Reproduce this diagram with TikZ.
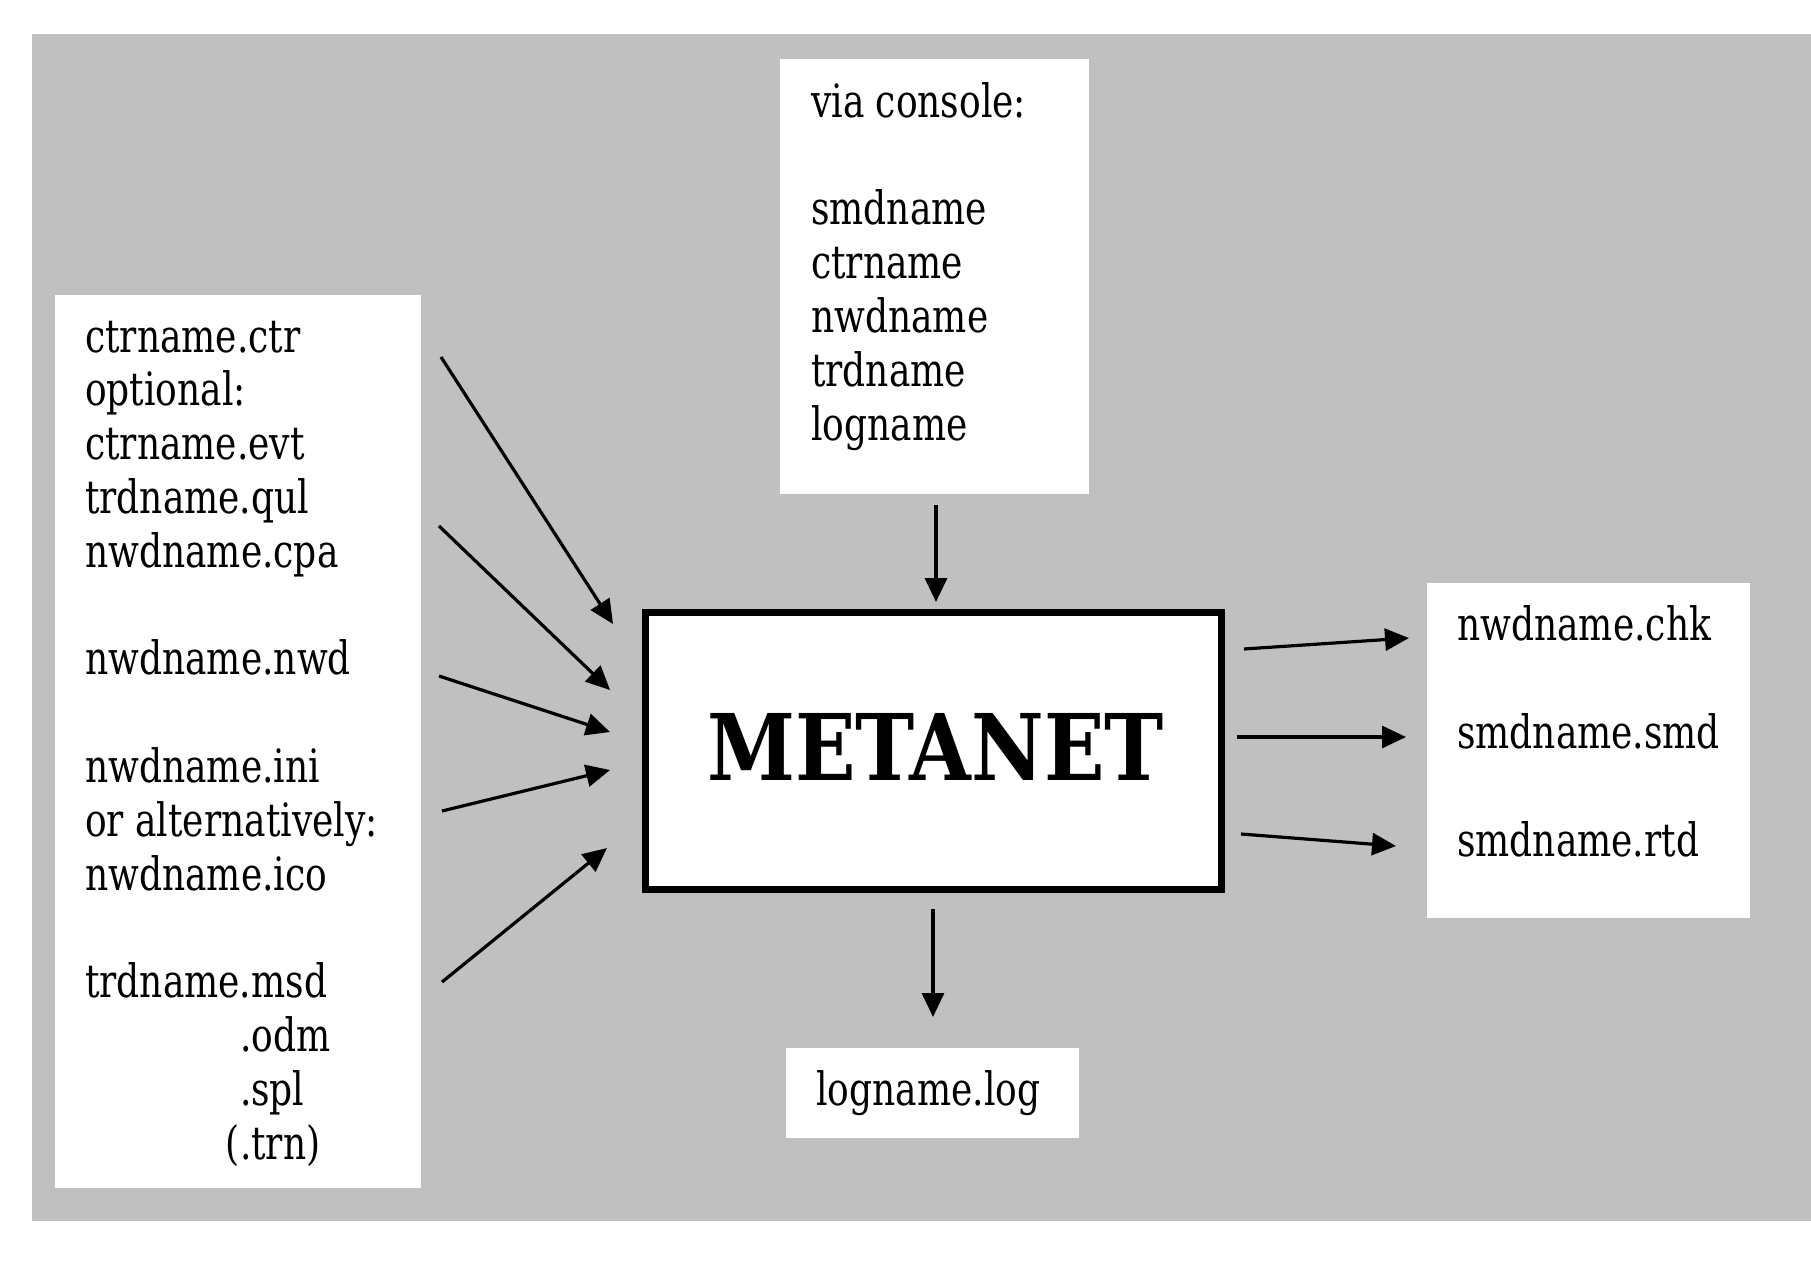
\documentclass[tikz,border=0pt]{standalone}
\usepackage{fontspec}
\setmainfont{DejaVu Serif Condensed}[FakeStretch=0.87]
\newfontfamily\metafont{DejaVu Serif Condensed}[FakeStretch=0.96]
\usetikzlibrary{arrows.meta}
\definecolor{bggray}{RGB}{192,192,192}
\tikzset{
  panel/.style={fill=white, draw=none, inner sep=0pt},
  mainbox/.style={fill=white, draw=black, line width=7pt, inner sep=0pt},
  txt/.style={anchor=base west, inner sep=0pt, align=left, font=\fontsize{46pt}{53.8pt}\selectfont},
  arr/.style={line width=3.2pt, -{Triangle[length=24pt,width=22pt]}}
}
\begin{document}
\begin{tikzpicture}[x=1pt,y=-1pt]
\useasboundingbox (0,0) rectangle (1811,1269);
\fill[bggray] (32,34) rectangle (1811,1221);
% boxes
\node[panel, minimum width=366pt, minimum height=893pt] (L) at (238,741.5) {};
\node[panel, minimum width=309pt, minimum height=435pt] (C) at (934.5,276.5) {};
\node[panel, minimum width=323pt, minimum height=335pt] (R) at (1588.5,750.5) {};
\node[panel, minimum width=293pt, minimum height=90pt] (G) at (932.5,1093) {};
\node[mainbox, minimum width=575.5pt, minimum height=277pt] (M) at (933.25,750.5) {};
% texts (anchored at the baseline of the last line)
\node[txt] (Lt) at (85,1159) {ctrname.ctr\\optional:\\ctrname.evt\\trdname.qul\\nwdname.cpa\\~\\nwdname.nwd\\~\\nwdname.ini\\or alternatively:\\nwdname.ico\\~\\trdname.msd\\\phantom{trdname}.odm\\\phantom{trdname}.spl\\\phantom{trdname}\llap{(}.trn)};
\node[txt] (Ct) at (811,440) {via console:\\~\\smdname\\ctrname\\nwdname\\trdname\\logname};
\node[txt] (Rt) at (1457,856) {nwdname.chk\\~\\smdname.smd\\~\\smdname.rtd};
\node[txt] (Gt) at (816,1105) {logname.log};
\node[anchor=base, inner sep=0pt, font=\fontsize{92pt}{100pt}\metafont\bfseries] (Mt) at (935.5,780) {METANET};
% connector end points
\coordinate (a1s) at (441,357);  \coordinate (a1e) at (613,624);
\coordinate (a2s) at (439,526);  \coordinate (a2e) at (610,690);
\coordinate (a3s) at (439,676);  \coordinate (a3e) at (610,732);
\coordinate (a4s) at (442,811);  \coordinate (a4e) at (610,770);
\coordinate (a5s) at (442,982);  \coordinate (a5e) at (607,848);
\coordinate (tops) at (936,505); \coordinate (tope) at (936,602);
\coordinate (bots) at (933,909); \coordinate (bote) at (933,1017);
\coordinate (r1s) at (1244,649); \coordinate (r1e) at (1409,638);
\coordinate (r2s) at (1237,737); \coordinate (r2e) at (1406,737);
\coordinate (r3s) at (1241,834); \coordinate (r3e) at (1396,846);
\draw[arr] (a1s) -- (a1e);
\draw[arr] (a2s) -- (a2e);
\draw[arr] (a3s) -- (a3e);
\draw[arr] (a4s) -- (a4e);
\draw[arr] (a5s) -- (a5e);
\draw[arr] (tops) -- (tope);
\draw[arr] (bots) -- (bote);
\draw[arr] (r1s) -- (r1e);
\draw[arr] (r2s) -- (r2e);
\draw[arr] (r3s) -- (r3e);
\end{tikzpicture}
\end{document}
